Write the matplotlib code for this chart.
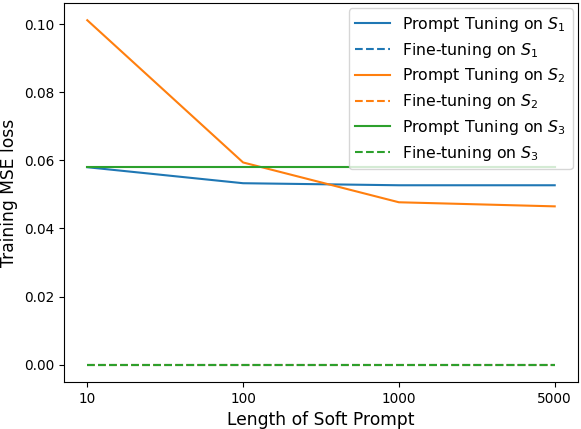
import matplotlib
matplotlib.use("Agg")
import matplotlib.pyplot as plt

# longueur du soft prompt (axe catégoriel)
prompt_len = ['10', '100', '1000', '5000']

pt_s1 = [0.0580, 0.0533, 0.0527, 0.0527]
pt_s2 = [0.1012, 0.0594, 0.0477, 0.0465]
pt_s3 = [0.0580, 0.0580, 0.0580, 0.0580]
ft_s1 = [0.0, 0.0, 0.0, 0.0]
ft_s2 = [0.0, 0.0, 0.0, 0.0]
ft_s3 = [0.0, 0.0, 0.0, 0.0]

fig, ax = plt.subplots(figsize=(5.81, 4.29), dpi=100)

ax.plot(prompt_len, pt_s1, color='C0', label='Prompt Tuning on $S_1$')
ax.plot(prompt_len, ft_s1, color='C0', ls='--', label='Fine-tuning on $S_1$')
ax.plot(prompt_len, pt_s2, color='C1', label='Prompt Tuning on $S_2$')
ax.plot(prompt_len, ft_s2, color='C1', ls='--', label='Fine-tuning on $S_2$')
ax.plot(prompt_len, pt_s3, color='C2', label='Prompt Tuning on $S_3$')
ax.plot(prompt_len, ft_s3, color='C2', ls='--', label='Fine-tuning on $S_3$')

ax.tick_params(labelsize=9.8)
ax.set_xlabel('Length of Soft Prompt', fontsize=12.3)
ax.set_ylabel('Training MSE loss', fontsize=12.3)
ax.legend(loc='upper right', fontsize=11.3, labelspacing=0.43,
          handlelength=2.2, borderaxespad=0.35)

fig.subplots_adjust(left=0.11, right=0.995, top=0.993, bottom=0.11)
fig.savefig('out.png', dpi=100)
